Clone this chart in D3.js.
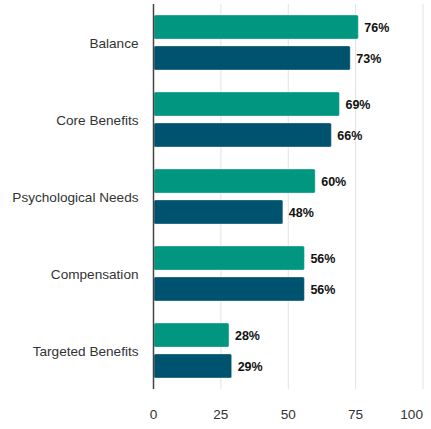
<!DOCTYPE html>
<html>
<head>
<meta charset="utf-8">
<script src="https://cdn.jsdelivr.net/npm/d3@7"></script>
<style>
  body { margin: 0; background: #fff; }
  svg { display: block; font-family: "Liberation Sans", Arial, sans-serif; }
</style>
</head>
<body>
<svg id="chart" width="431" height="429"></svg>
<script>
// datos
const categories = ['Balance', 'Core Benefits', 'Psychological Needs', 'Compensation', 'Targeted Benefits'];
const seriesKeys = ['a', 'b'];
const seriesA = [76, 69, 60, 56, 28];
const seriesB = [73, 66, 48, 56, 29];
const tickValues = [0, 25, 50, 75, 100];

const COLORS = { a: '#009680', b: '#00536f' };

const margin = { top: 4, left: 153.5 };

const svg = d3.select('#chart');
const g = svg.append('g').attr('transform', `translate(${margin.left},${margin.top})`);
const innerW = 423 - margin.left;
const innerH = 389 - margin.top;

const x = d3.scaleLinear().domain([0, 100]).range([0, innerW]);
const y = d3.scaleBand().domain(categories).range([0, innerH]).padding(0);
const ySub = d3.scaleBand().domain(seriesKeys).range([11, y.bandwidth() - 11]).paddingInner(0.22);

const rows = categories.map((c, i) => ({ cat: c, a: seriesA[i], b: seriesB[i] }));

// grilla
g.append('g')
  .selectAll('line')
  .data(tickValues.slice(1))
  .join('line')
  .attr('x1', d => x(d)).attr('x2', d => x(d))
  .attr('y1', 0).attr('y2', innerH)
  .attr('stroke', '#e2e2e2')
  .attr('stroke-width', 1);

// barras
const groups = g.selectAll('g.grp')
  .data(rows)
  .join('g')
  .attr('class', 'grp')
  .attr('transform', d => `translate(0,${y(d.cat)})`);

groups.selectAll('rect')
  .data(d => seriesKeys.map(k => ({ key: k, value: d[k] })))
  .join('rect')
  .attr('x', 0.5)
  .attr('y', d => ySub(d.key))
  .attr('width', d => x(d.value) - 0.5)
  .attr('height', ySub.bandwidth())
  .attr('rx', 1.5)
  .attr('fill', d => COLORS[d.key])
  .attr('stroke', 'rgba(255,255,255,0.35)')
  .attr('stroke-width', 1);

groups.selectAll('text')
  .data(d => seriesKeys.map(k => ({ key: k, value: d[k] })))
  .join('text')
  .attr('x', d => x(d.value) + 6)
  .attr('y', d => ySub(d.key) + ySub.bandwidth() / 2 + 1)
  .attr('dy', '0.35em')
  .attr('font-size', 12.5)
  .attr('font-weight', 'bold')
  .attr('fill', '#111')
  .text(d => d.value + '%');

// eje y (categorías)
g.append('g')
  .selectAll('text')
  .data(categories)
  .join('text')
  .attr('x', -15)
  .attr('y', d => y(d) + y.bandwidth() / 2 + 1)
  .attr('dy', '0.35em')
  .attr('text-anchor', 'end')
  .attr('font-size', 13.6)
  .attr('fill', '#333')
  .text(d => d);

g.append('line')
  .attr('x1', 0).attr('x2', 0)
  .attr('y1', 0).attr('y2', innerH)
  .attr('stroke', '#444')
  .attr('stroke-width', 1.5);

// eje x (ticks) — el último se alinea a la derecha para que no se corte
const last = tickValues[tickValues.length - 1];
g.append('g')
  .selectAll('text')
  .data(tickValues)
  .join('text')
  .attr('x', d => x(d))
  .attr('y', innerH + 25)
  .attr('dy', '0.35em')
  .attr('text-anchor', d => (d === last ? 'end' : 'middle'))
  .attr('font-size', 13.6)
  .attr('fill', '#333')
  .text(d => d);
</script>
</body>
</html>
